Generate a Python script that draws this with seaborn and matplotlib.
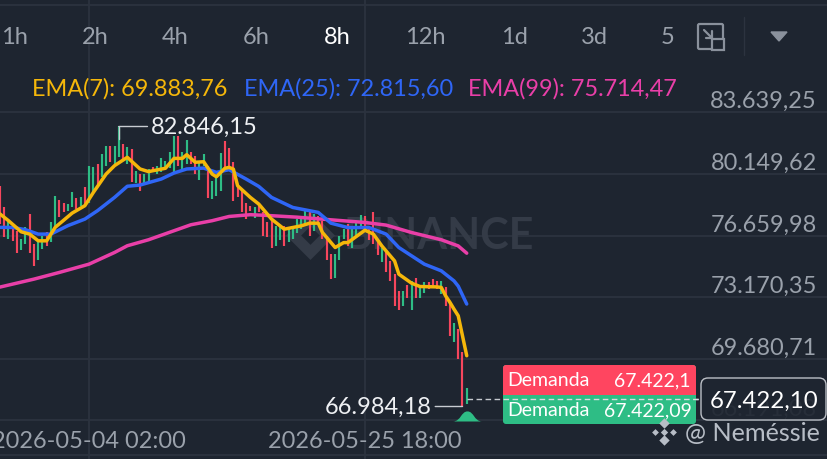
import seaborn as sns
import pandas as pd
import matplotlib.pyplot as plt
from matplotlib.path import Path
from matplotlib.patches import FancyBboxPatch, Rectangle

# prices are in thousands, so 83.63925 prints as 83.639,25 on the chart
candle_high = [79.49, 78.26, 77.41, 77.04, 76.94, 76.47, 77.13, 77.89, 76.19, 76.28, 76.66, 76.85, 77.41, 78.89,
               78.68, 78.51, 78.45, 79.15, 78.77, 78.83, 79.40, 80.59, 80.53, 80.72, 81.29, 81.76, 81.76, 81.76,
               82.85, 81.86, 81.67, 81.57, 80.34, 80.15, 80.15, 80.44, 80.53, 80.63, 81.04, 80.91, 81.42, 82.33,
               82.33, 81.38, 82.10, 81.38, 81.19, 80.91, 81.29, 80.63, 79.78, 79.97, 81.33, 82.04, 81.61,
               80.81, 79.52, 79.20, 78.50, 78.32, 78.26, 78.45, 77.98, 77.41, 77.69, 77.22, 77.22, 77.22, 77.03,
               77.12, 77.60, 77.69, 78.07, 77.98, 77.88, 77.79, 77.50, 76.65, 75.61, 75.61, 76.65, 77.03, 77.31,
               77.12, 77.41, 77.82, 77.75, 77.12, 77.98, 76.37, 75.99, 75.80, 75.23,
               74.49, 73.54, 73.54, 73.86, 74.11, 74.24, 73.73, 74.01, 74.01, 74.20, 74.11, 74.11, 73.73, 72.88,
               71.71, 71.37, 70.08, 68.06]
candle_low = [77.32, 76.56, 76.47, 76.37, 75.67, 75.86, 76.19, 75.67, 74.92, 75.30, 75.90, 76.09, 76.28, 77.04,
              77.70, 78.02, 78.08, 78.26, 78.17, 78.36, 78.36, 78.51, 79.11, 79.59, 79.97, 80.59, 80.82, 80.72,
              81.10, 80.91, 80.72, 79.68, 79.64, 79.17, 79.64, 79.78, 80.25, 80.15, 80.25, 80.44, 80.48, 80.25,
              80.63, 80.44, 80.72, 80.72, 80.15, 79.83, 80.63, 78.77, 78.74, 78.89, 79.21, 80.53, 80.53,
              78.64, 78.83, 77.98, 77.60, 78.07, 77.69, 77.98, 76.65, 76.56, 75.99, 76.09, 76.43, 76.09, 76.31,
              76.46, 76.84, 77.03, 77.22, 76.65, 76.94, 77.31, 76.46, 75.27, 74.19, 74.25, 75.29, 76.50, 76.09,
              75.99, 76.65, 77.22, 76.94, 76.43, 76.18, 75.56, 75.18, 74.61, 74.10,
              72.65, 72.46, 72.65, 73.11, 72.43, 73.11, 73.11, 73.41, 73.64, 73.73, 73.64, 73.35, 72.65, 70.99,
              70.61, 69.67, 66.98, 67.15]
candle_dir = list('RRGRRGGRRG' 'GRGGRRGGRG' 'RGGRGGRGGR' 'GRGRGGRGGG' 'GGRGGRRGGR' 'GGGRR'
                  'RRRRRGRRRR' 'GGRGGGGGRG' 'RRRRGGGRGG' 'GRRRRGRR'
                  'RRGRGRGGRR' 'RGRRGRRG')

ema7_idx = [0, 2, 5, 7, 9, 11, 13, 17, 20, 22, 25, 27, 30, 33, 35, 39, 41, 43, 44, 46, 48, 50, 51, 53, 54, 55, 56,
            59, 61, 64, 67, 71, 73, 75, 76, 79, 81, 82, 86, 88, 90, 93, 94, 97, 99, 103, 104, 105, 106, 107, 108,
            109, 110]
ema7_val = [77.89, 77.51, 76.88, 76.75, 76.37, 76.37, 77.13, 77.94, 78.36, 79.11, 80.15, 80.63, 81.10, 80.44, 80.29,
            80.48, 81.04, 81.04, 81.25, 80.82, 80.85, 80.15, 80.00, 80.48, 80.53, 80.43, 79.49, 78.83, 78.45, 77.60,
            77.03, 77.22, 77.37, 77.37, 76.84, 75.99, 76.27, 76.27, 76.97, 76.75, 76.08, 75.23, 74.48, 73.97, 73.78,
            73.76, 73.73, 73.26, 72.90, 72.50, 72.12, 70.99, 69.86]
ema25_idx = [0, 3, 6, 9, 12, 16, 20, 23, 27, 30, 33, 38, 41, 44, 48, 51, 54, 58, 61, 64, 69, 75, 78, 82, 87, 91, 94,
             100, 104, 107, 108, 110]
ema25_val = [77.13, 77.13, 77.00, 76.75, 76.75, 77.23, 77.60, 78.08, 78.83, 79.46, 79.53, 79.87, 80.21, 80.44, 80.49,
             80.25, 80.40, 79.87, 79.45, 78.83, 78.26, 77.98, 77.37, 77.12, 77.12, 76.75, 75.99, 75.05, 74.67, 74.10,
             73.80, 72.79]
ema99_idx = [0, 8, 14, 21, 27, 30, 35, 41, 45, 50, 54, 59, 62, 70, 78, 86, 91, 97, 104, 108, 110]
ema99_val = [73.75, 74.20, 74.58, 75.05, 75.71, 76.09, 76.43, 76.94, 77.28, 77.51, 77.75, 77.85, 77.82, 77.71, 77.56,
             77.41, 77.26, 76.84, 76.43, 76.08, 75.67]

price_ticks = [83.63925, 80.14962, 76.65998, 73.17035, 69.68071, 66.19108]
price_labels = ['83.639,25', '80.149,62', '76.659,98', '73.170,35', '69.680,71', '66.191,08']
time_ticks = ['2026-05-04 02:00', '2026-05-25 18:00']
timeframes = ['1h', '2h', '4h', '6h', '8h', '12h', '1d', '3d', '5']
ema_legend = ['EMA(7): 69.883,76', 'EMA(25): 72.815,60', 'EMA(99): 75.714,47']
last_price = 67.4221
high_price, low_price = 82.846, 66.984

BG = '#1e2530'
GRID = '#2c333f'
GRAY = '#9aa1ab'
RED = '#f6465d'
GREEN = '#2ebd85'
YELLOW = '#f5b70a'
BLUE = '#2f66f6'
PINK = '#e93fa8'
WATERMARK = '#343b47'

sns.set_theme(style='dark', rc={'axes.facecolor': BG, 'figure.facecolor': BG})
plt.rcParams['font.family'] = ['Lato', 'DejaVu Sans']

times = pd.date_range('2026-04-27 02:00', periods=len(candle_high), freq='8h')
candle_df = pd.DataFrame({'time': times, 'high': candle_high, 'low': candle_low, 'dir': candle_dir})

ema_df = pd.concat([
    pd.DataFrame({'time': times[ema7_idx], 'price': ema7_val, 'ema': 'EMA7'}),
    pd.DataFrame({'time': times[ema25_idx], 'price': ema25_val, 'ema': 'EMA25'}),
    pd.DataFrame({'time': times[ema99_idx], 'price': ema99_val, 'ema': 'EMA99'}),
])

fig = plt.figure(figsize=(8.28, 4.6), dpi=100)
ax = fig.add_axes([0, 0, 1, 1])
for side in ax.spines.values():
    side.set_visible(False)

# 4.243 px per candle, 0.05665 per px
ax.set_xlim(times[0], times[0] + pd.Timedelta(hours=8) * (828 / 4.243))
ax.set_ylim(64.010, 90.069)
ax.set_xticks(pd.to_datetime(time_ticks))
ax.set_yticks(price_ticks)
ax.set_xticklabels([])
ax.set_yticklabels([])
ax.tick_params(length=0)
ax.grid(True, color=GRID, lw=1.3)
ax.set_axisbelow(True)

# screen furniture sits on a pixel-sized layer
ui = fig.add_axes([0, 0, 1, 1], zorder=3)
ui.set_xlim(0, 828)
ui.set_ylim(460, 0)
ui.axis('off')
ui.patch.set_alpha(0)

# watermark
ax.scatter(times[73], 76.69, marker='D', s=620, color=WATERMARK, linewidths=0, zorder=1)
ax.scatter(times[73], 76.69, marker='D', s=90, color=BG, linewidths=0, zorder=1)
ax.text(times[81], 76.69, 'BINANCE', color=WATERMARK, fontsize=31, fontweight='bold', va='center', ha='left', zorder=1)

for c, color in [('R', RED), ('G', GREEN)]:
    part = candle_df[candle_df['dir'] == c]
    ax.vlines(part['time'], part['low'], part['high'], color=color, lw=1.55, zorder=2)

sns.lineplot(data=ema_df, x='time', y='price', hue='ema', hue_order=['EMA99', 'EMA25', 'EMA7'],
             palette={'EMA7': YELLOW, 'EMA25': BLUE, 'EMA99': PINK}, lw=2.5, legend=False, ax=ax, zorder=4, sort=False)
ax.set_xlabel('')
ax.set_ylabel('')

# high / low callouts
peak = times[28]
ax.plot([peak, peak], [high_price - 0.7, high_price], color='#c8ccd2', lw=1, zorder=3)
ax.annotate('82.846,15', xy=(peak, high_price), xytext=(23, 0), textcoords='offset points', color='#eef0f3',
            fontsize=17, va='center', ha='left', arrowprops=dict(arrowstyle='-', color='#c8ccd2', lw=1, shrinkA=0, shrinkB=0))
ax.annotate('66.984,18', xy=(times[109], low_price), xytext=(-22, 0), textcoords='offset points', color='#eef0f3',
            fontsize=17, va='center', ha='right', arrowprops=dict(arrowstyle='-', color='#c8ccd2', lw=1, shrinkA=0, shrinkB=0))

# price scale and time scale labels
for val, lab in zip(price_ticks, price_labels):
    ax.annotate(lab, xy=(1, val), xycoords=ax.get_yaxis_transform(), xytext=(-8, 8.5), textcoords='offset points',
                color=GRAY, fontsize=16.9, ha='right', va='center')
for t, lab in zip(ax.get_xticks(), time_ticks):
    ax.annotate(lab, xy=(t, 0), xycoords=ax.get_xaxis_transform(), xytext=(0, 13), textcoords='offset points',
                color=GRAY, fontsize=16.9, ha='center', va='center')

# last price dashes
ax.plot([times[110], times[110] + pd.Timedelta(hours=8) * 55], [last_price, last_price], color='#c5c9cf', lw=1,
        ls=(0, (4, 2.5)), zorder=2)

# bell marker under the last candle
bell = Path([(-1, 0), (-0.45, 0.02), (-0.45, 0.7), (0, 0.7), (0.45, 0.7), (0.45, 0.02), (1, 0), (-1, 0)],
            [Path.MOVETO, Path.CURVE4, Path.CURVE4, Path.CURVE4, Path.CURVE4, Path.CURVE4, Path.CURVE4, Path.CLOSEPOLY])
ax.scatter(times[110], 66.19, marker=bell, s=430, color=GREEN, linewidths=0, zorder=5)

# top tabs
tab_x = [14, 95, 175, 256, 337, 425, 514, 594, 668]
for x, lab in zip(tab_x, timeframes):
    ui.text(x, 38, lab, color='#ffffff' if lab == '8h' else GRAY, fontsize=17, ha='center', va='center')
ui.plot([0, 828], [6, 6], color=GRID, lw=1.3)
ui.plot([0, 828], [456, 456], color=GRID, lw=1.3)
ui.plot([744.5, 744.5], [18, 56], color=GRID, lw=1)
ui.fill([771, 787, 779], [33, 33, 42], color='#8a919c')

# resize icon
ui.add_patch(FancyBboxPatch((698, 25), 25, 25, boxstyle='round,pad=0,rounding_size=1.5', fc='none', ec='#8a919c', lw=1.6))
ui.add_patch(Rectangle((712, 40), 12, 11, fc=BG, ec='#8a919c', lw=1.6))
ui.plot([704, 712], [31, 39], color='#8a919c', lw=1.6)
ui.plot([712, 712, 706], [32, 39, 39], color='#8a919c', lw=1.6)

# EMA legend
for x, lab, color in zip([32, 244, 468], ema_legend, [YELLOW, BLUE, PINK]):
    ui.text(x, 89, lab, color=color, fontsize=16.9, ha='left', va='center')

# order book chips
ui.add_patch(FancyBboxPatch((503, 366), 193, 59, boxstyle='round,pad=0,rounding_size=3', fc=GREEN, ec='none'))
ui.add_patch(FancyBboxPatch((503, 366), 193, 30, boxstyle='round,pad=0,rounding_size=3', fc='#ff4560', ec='none'))
ui.add_patch(Rectangle((503, 390), 193, 6, fc='#ff4560', ec='none'))
ui.plot([503, 700], [399.5, 399.5], color='#d8dde0', lw=1, ls=(0, (4, 2.5)))
ui.text(507, 381, 'Demanda', color='white', fontsize=14, ha='left', va='center')
ui.text(691, 381, '67.422,1', color='white', fontsize=14, ha='right', va='center')
ui.text(507, 411, 'Demanda', color='white', fontsize=14, ha='left', va='center')
ui.text(692, 411, '67.422,09', color='white', fontsize=14, ha='right', va='center')

ui.add_patch(FancyBboxPatch((701, 379), 125, 42, boxstyle='round,pad=0,rounding_size=7', fc=BG, ec='#c8ccd2', lw=1,
                            alpha=0.93))
ui.text(764, 401, '67.422,10', color='white', fontsize=17.3, ha='center', va='center')

# footer logo
for dx, dy, s in [(0, -9, 28), (-9, 0, 12), (9, 0, 12), (0, 0, 14), (0, 8, 28)]:
    ui.scatter(664 + dx, 433 + dy, marker='D', s=s, color='#b7bdc6', linewidths=0)
ui.text(685, 434, '@ Neméssie', color='#b7bdc6', fontsize=18.2, ha='left', va='center')

fig.savefig('out.png', dpi=100, facecolor=BG)
